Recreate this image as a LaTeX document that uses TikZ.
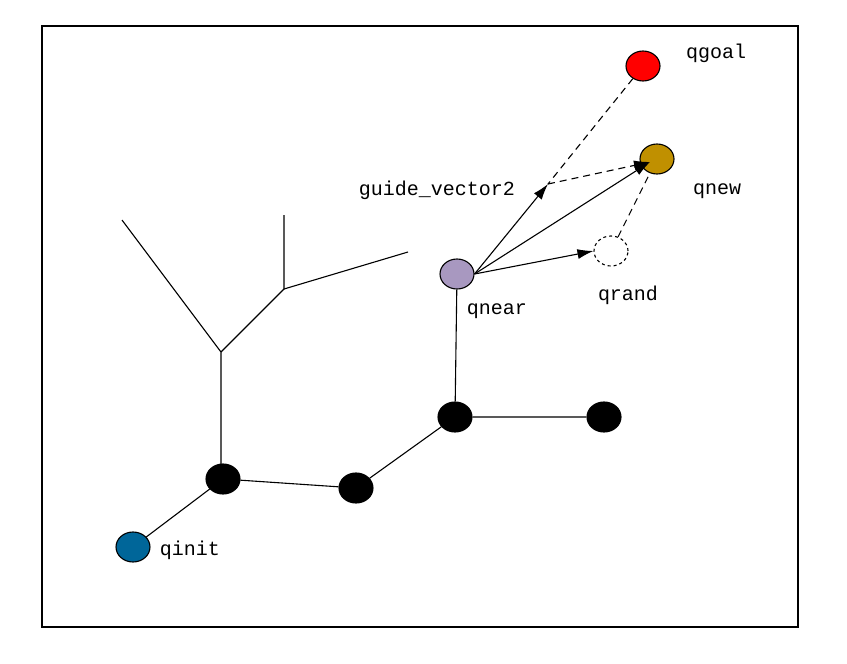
\documentclass[tikz,border=0pt]{standalone}
\usepackage{fontspec}
\setmonofont{Liberation Mono}
\usetikzlibrary{arrows.meta,shapes.geometric}
\begin{document}
\begin{tikzpicture}[x=1pt,y=-1pt,line width=1.1pt,
  st/.style={draw,ellipse,minimum width=34pt,minimum height=30pt,inner sep=0pt},
  lbl/.style={font=\ttfamily\fontsize{20}{20}\selectfont},
  ar/.style={-{Latex[length=16pt,width=10pt]}}]
\useasboundingbox (0,0) rectangle (847,664);
\draw (42,26) rectangle (798,627);
\node[st,fill=red] (goal) at (643,66) {};
\node[st,fill={rgb,255:red,192;green,144;blue,0}] (new) at (657,159) {};
\node[st,dashed] (rand) at (611,251) {};
\node[st,fill={rgb,255:red,168;green,152;blue,192}] (near) at (457,274) {};
\node[st,fill=black] (b1) at (455,417) {};
\node[st,fill=black] (b2) at (604,417) {};
\node[st,fill=black] (b3) at (356,488) {};
\node[st,fill=black] (b4) at (223,479) {};
\node[st,fill={rgb,255:red,0;green,102;blue,153}] (init) at (133,547) {};
\node[lbl] (lg) at (716,53) {qgoal};
\node[lbl] (ln) at (717,191) {qnew};
\node[lbl] (lr) at (628,295) {qrand};
\node[lbl] (lnr) at (497,311) {qnear};
\node[lbl] (li) at (190,550) {qinit};
\node[lbl] (lv) at (437,190) {guide\_vector2};
\coordinate (gv) at (548,184);
\coordinate (j1) at (221,352);
\coordinate (j2) at (284,289);
\coordinate (e1) at (122,220);
\coordinate (e2) at (284,215);
\coordinate (e3) at (408,252);
\draw (init) -- (b4) -- (b3) -- (b1) -- (b2);
\draw (b1) -- (near);
\draw (221,479) -- (j1) -- (e1);
\draw (j1) -- (j2) -- (e2);
\draw (j2) -- (e3);
\draw[ar] (near.east) -- (gv);
\draw[ar] (near.east) -- (650,162);
\draw[ar] (near.east) -- (rand.west);
\draw[dashed,dash pattern=on 7pt off 5pt] (goal) -- (gv);
\draw[dashed,dash pattern=on 7pt off 5pt,ar] (gv) -- (650,162);
\draw[dashed,dash pattern=on 7pt off 5pt] (rand) -- (new);
\end{tikzpicture}
\end{document}
